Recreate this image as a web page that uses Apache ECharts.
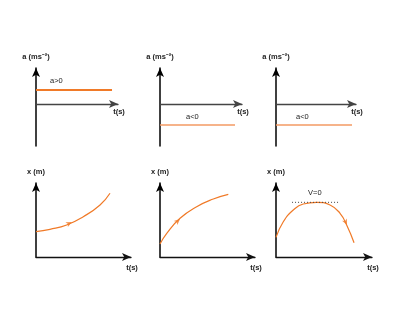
<!DOCTYPE html>
<html><head><meta charset="utf-8">
<script src="https://cdn.jsdelivr.net/npm/echarts@6/dist/echarts.min.js"></script>
<style>html,body{margin:0;padding:0;background:#fff}#c{width:400px;height:322px}</style>
</head><body><div id="c"></div>
<script>
// acceleration-time graphs (constant acceleration)
const accelPositive = [[0, 2.33], [9.27, 2.33]];
const accelNegative2 = [[0, -3.5], [9.15, -3.5]];
const accelNegative3 = [[0, -3.5], [9.5, -3.5]];
// position-time graphs
const posCurve1 = [[0, 3.42], [1.47, 3.74], [3.23, 4.32], [4.98, 5.45], [6.74, 7.03], [7.79, 8.61]];
const posCurve2 = [[0, 1.76], [0.71, 3.20], [2.11, 5.23], [3.86, 6.80], [5.61, 7.84], [7.19, 8.47]];
const posCurve3 = [[0, 2.66], [0.76, 4.77], [1.80, 6.35], [2.84, 7.16], [4.24, 7.39], [5.63, 7.03], [6.67, 5.91], [7.36, 4.32], [8.13, 1.93]];
const peakTangent = [[1.67, 7.39], [6.56, 7.39]];
// direction arrows on curves
const dirArrow1 = [[3.79, 4.73]];
const dirArrow2 = [[2.11, 5.14]];
const dirArrow3 = [[7.40, 4.32]];
// labels
const accelAxisName = 'a (ms\u207B\u00B2)';
const posAxisName = 'x (m)';
const timeAxisName = 't(s)';

const ORANGE = '#f07a28';
const FONT = 'Liberation Sans, Arial, sans-serif';

const grids = [
  {left: 36, top: 68, width: 82, height: 78},
  {left: 160, top: 68, width: 82, height: 78},
  {left: 276, top: 68, width: 80, height: 78},
  {left: 36, top: 183, width: 95, height: 74},
  {left: 160, top: 183, width: 95, height: 74},
  {left: 276, top: 183, width: 96, height: 74}
];

function xAx(i, top) {
  return {
    type: 'value', gridIndex: i, min: 0, max: 10,
    name: timeAxisName, nameLocation: 'end', nameGap: 1,
    nameTextStyle: {align: 'center', verticalAlign: 'top', padding: [top ? 4 : 7, 0, 0, 0], fontSize: 7.5, fontWeight: 'bold', color: '#222', fontFamily: FONT},
    axisLine: {onZero: true, symbol: ['none', 'arrow'], symbolSize: [6, 9], lineStyle: {color: top ? '#444' : '#111', width: 1.3}},
    axisTick: {show: false}, axisLabel: {show: false}, splitLine: {show: false}
  };
}
function yAx(i, top) {
  return {
    type: 'value', gridIndex: i, min: top ? -7 : 0, max: top ? 6 : 10,
    name: top ? accelAxisName : posAxisName, nameLocation: 'end', nameGap: 7,
    nameTextStyle: {align: 'center', fontSize: 7.5, fontWeight: 'bold', color: '#222', fontFamily: FONT},
    axisLine: {onZero: false, symbol: ['none', 'arrow'], symbolSize: [6, 9], lineStyle: {color: '#000', width: 1.5}},
    axisTick: {show: false}, axisLabel: {show: false}, splitLine: {show: false}
  };
}

function lineS(i, data, opts) {
  return Object.assign({
    type: 'line', xAxisIndex: i, yAxisIndex: i, data: data, symbol: 'none',
    lineStyle: {color: ORANGE, width: 1.2}, silent: true
  }, opts || {});
}
function arrowS(i, data, rot) {
  return {
    type: 'scatter', xAxisIndex: i, yAxisIndex: i, data: data, symbol: 'arrow',
    symbolSize: [4, 6], symbolRotate: rot, itemStyle: {color: ORANGE}, silent: true, z: 5
  };
}

const txt = (x, y, s) => ({type: 'text', left: x, top: y, style: {text: s, fontSize: 7.5, fill: '#222', fontFamily: FONT}});

const option = {
  animation: false,
  backgroundColor: '#fff',
  grid: grids,
  xAxis: [xAx(0, true), xAx(1, true), xAx(2, true), xAx(3, false), xAx(4, false), xAx(5, false)],
  yAxis: [yAx(0, true), yAx(1, true), yAx(2, true), yAx(3, false), yAx(4, false), yAx(5, false)],
  series: [
    lineS(0, accelPositive, {lineStyle: {color: ORANGE, width: 2}}),
    lineS(1, accelNegative2, {lineStyle: {color: '#f39a63', width: 1.5}}),
    lineS(2, accelNegative3, {lineStyle: {color: '#f39a63', width: 1.5}}),
    lineS(3, posCurve1, {smooth: true}),
    lineS(4, posCurve2, {smooth: true}),
    lineS(5, posCurve3, {smooth: 0.5}),
    lineS(5, peakTangent, {lineStyle: {color: '#444', width: 1, type: [1, 2]}, z: 3}),
    arrowS(3, dirArrow1, -63.4),
    arrowS(4, dirArrow2, -48.4),
    arrowS(5, dirArrow3, -154.5)
  ],
  graphic: [
    txt(50, 77, 'a>0'),
    txt(186, 113, 'a<0'),
    txt(296, 113, 'a<0'),
    txt(308, 189, 'V=0')
  ]
};
echarts.init(document.getElementById('c'), null, {renderer: 'canvas'}).setOption(option);
</script>
</body></html>
